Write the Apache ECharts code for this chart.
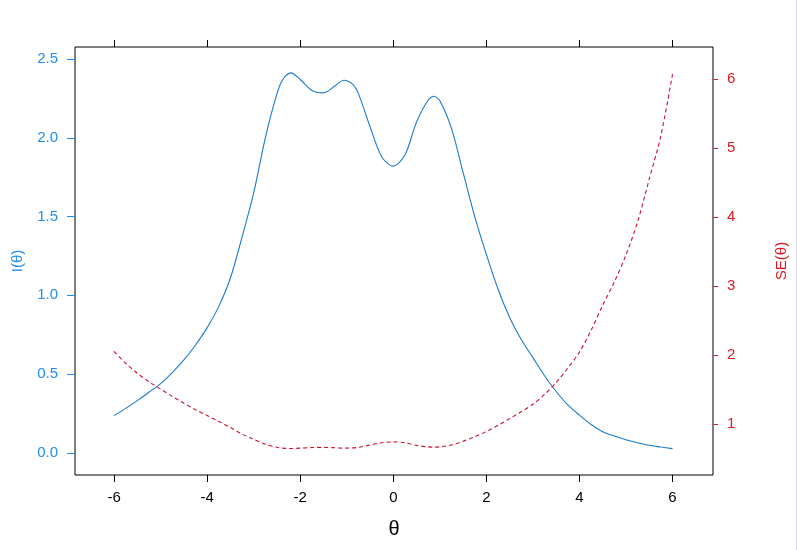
<!DOCTYPE html>
<html>
<head>
<meta charset="utf-8">
<script src="https://cdn.jsdelivr.net/npm/echarts@6/dist/echarts.min.js"></script>
<style>
html,body{margin:0;padding:0;background:#fff;}
#c{width:797px;height:550px;position:relative;}
#edge{position:absolute;left:796px;top:0;width:1px;height:550px;background:#d8dce2;}
</style>
</head>
<body>
<div id="c"></div>
<div id="edge"></div>
<script>
const theta = [-6,-5.75,-5.5,-5.25,-5,-4.75,-4.5,-4.25,-4,-3.75,-3.5,-3.25,-3,-2.75,-2.5,-2.375,-2.2,-2,-1.75,-1.5,-1.25,-1.0625,-0.875,-0.75,-0.5,-0.25,0,0.25,0.5,0.75,0.875,1,1.25,1.5,1.75,2,2.25,2.5,2.75,3,3.25,3.5,3.75,4,4.25,4.5,4.75,5,5.25,5.5,5.75,6];
const info = [0.237,0.283,0.332,0.385,0.44,0.51,0.59,0.685,0.795,0.93,1.11,1.37,1.65,2.00,2.28,2.37,2.412,2.37,2.30,2.285,2.33,2.365,2.34,2.28,2.07,1.88,1.82,1.89,2.10,2.24,2.263,2.235,2.06,1.78,1.50,1.26,1.04,0.86,0.72,0.605,0.49,0.39,0.305,0.24,0.18,0.135,0.107,0.084,0.0647,0.0483,0.0373,0.0271];
const se = [2.054,1.880,1.736,1.612,1.508,1.400,1.302,1.208,1.122,1.037,0.949,0.854,0.778,0.707,0.662,0.650,0.644,0.650,0.659,0.662,0.655,0.650,0.654,0.662,0.695,0.729,0.741,0.727,0.690,0.668,0.665,0.669,0.697,0.750,0.816,0.891,0.981,1.078,1.179,1.286,1.429,1.601,1.811,2.041,2.357,2.722,3.060,3.450,3.930,4.550,5.180,6.070];
const xTicks = [-6,-4,-2,0,2,4,6];
const infoTicks = [0,0.5,1,1.5,2,2.5];
const seTicks = [1,2,3,4,5,6];

const BLUE_TXT = '#1f8ef0';
const BLUE_LINE = '#1a7ad4';
const RED_TXT = '#e5161e';
const RED_LINE = '#cc1030';
const FONT = 'Liberation Sans, Arial, sans-serif';

const chart = echarts.init(document.getElementById('c'), null, {renderer:'canvas'});
chart.setOption({
  animation:false,
  backgroundColor:'#fff',
  grid:{left:75,right:84,top:47,bottom:75,show:true,borderColor:'#000',borderWidth:1,backgroundColor:'transparent',containLabel:false},
  xAxis:[{
    type:'value',position:'bottom',min:-6.84,max:6.87,
    name:'θ',nameLocation:'middle',nameGap:44,
    nameTextStyle:{color:'#000',fontSize:20,fontFamily:FONT},
    axisLine:{show:false,onZero:false},
    splitLine:{show:false},
    axisTick:{show:true,length:7,lineStyle:{color:'#000'},customValues:xTicks},
    axisLabel:{color:'#000',fontSize:15,fontFamily:FONT,margin:15,customValues:xTicks}
  },{
    type:'value',position:'top',min:-6.84,max:6.87,
    axisLine:{show:false,onZero:false},splitLine:{show:false},
    axisTick:{show:true,length:7,lineStyle:{color:'#000'},customValues:xTicks},
    axisLabel:{show:false}
  }],
  yAxis:[{
    type:'value',position:'left',min:-0.14,max:2.576,
    name:'I(θ)',nameLocation:'middle',nameGap:50,nameRotate:90,
    nameTextStyle:{color:BLUE_TXT,fontSize:15,fontFamily:FONT},
    axisLine:{show:false,onZero:false},splitLine:{show:false},
    axisTick:{show:true,length:8,lineStyle:{color:BLUE_TXT},customValues:infoTicks},
    axisLabel:{color:BLUE_TXT,fontSize:15,fontFamily:FONT,margin:17,customValues:infoTicks,formatter:v=>v.toFixed(1)}
  },{
    type:'value',position:'right',min:0.261,max:6.464,
    name:'SE(θ)',nameLocation:'middle',nameGap:61,nameRotate:90,
    nameTextStyle:{color:RED_TXT,fontSize:15,fontFamily:FONT},
    axisLine:{show:false,onZero:false},splitLine:{show:false},
    axisTick:{show:true,length:5,lineStyle:{color:RED_TXT},customValues:seTicks},
    axisLabel:{color:RED_TXT,fontSize:15,fontFamily:FONT,margin:14,customValues:seTicks}
  }],
  series:[{
    type:'line',xAxisIndex:0,yAxisIndex:0,
    data:theta.map((t,i)=>[t,info[i]]),
    smooth:0.3,showSymbol:false,
    lineStyle:{color:BLUE_LINE,width:1.1}
  },{
    type:'line',xAxisIndex:0,yAxisIndex:1,
    data:theta.map((t,i)=>[t,se[i]]),
    smooth:0.3,showSymbol:false,
    lineStyle:{color:RED_LINE,width:1.1,type:[4,3]}
  }]
});
</script>
</body>
</html>
